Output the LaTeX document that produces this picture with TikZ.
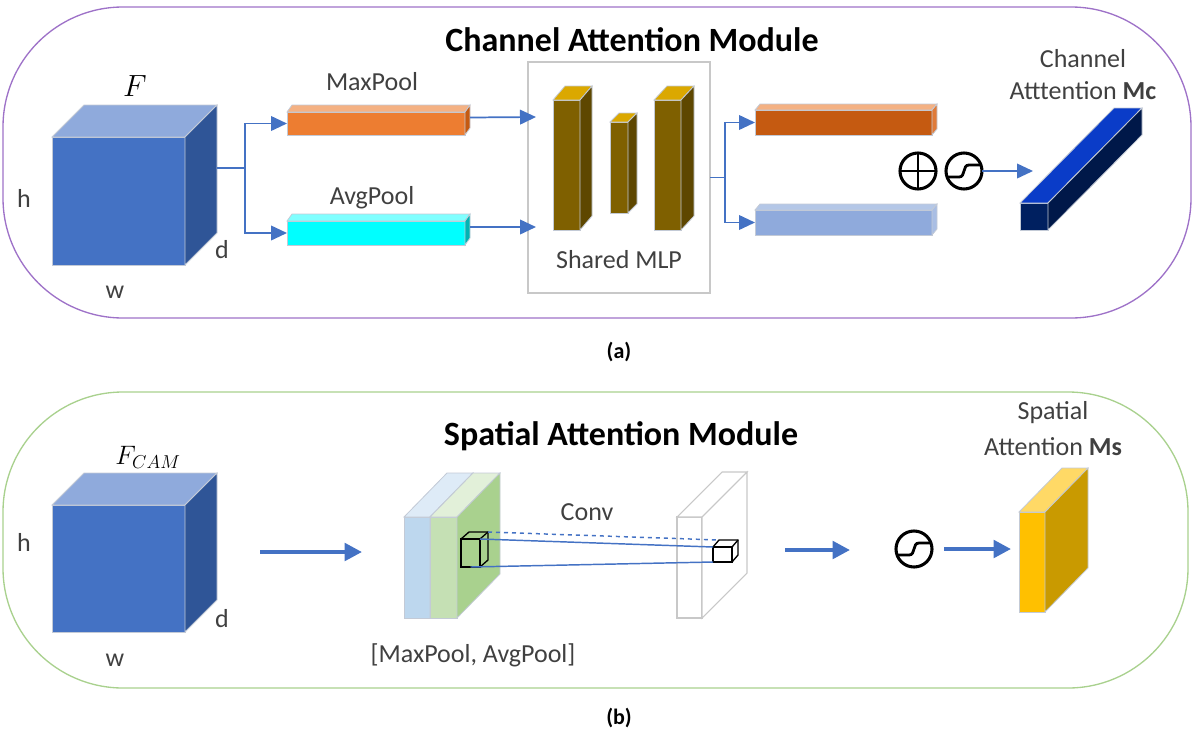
\RequirePackage{fix-cm}
\documentclass[tikz,border=0pt]{standalone}
\usepackage{fontspec}
\setmainfont{Carlito}
\usetikzlibrary{arrows.meta}
\definecolor{lineblue}{HTML}{4472C4}
\definecolor{cubefront}{HTML}{4472C4}
\definecolor{cubetop}{HTML}{8FAADC}
\definecolor{cubeside}{HTML}{2F5597}
\definecolor{edgegray}{HTML}{C3CAD6}
\definecolor{maxf}{HTML}{ED7D31}
\definecolor{maxt}{HTML}{F4B183}
\definecolor{maxs}{HTML}{C55A11}
\definecolor{avgf}{HTML}{00FFFF}
\definecolor{avgt}{HTML}{80FFFF}
\definecolor{avgs}{HTML}{00B3B3}
\definecolor{mlpf}{HTML}{7F6000}
\definecolor{mlpt}{HTML}{DBA800}
\definecolor{mlps}{HTML}{5E4700}
\definecolor{o1f}{HTML}{C55A11}
\definecolor{o1t}{HTML}{F4B183}
\definecolor{o1s}{HTML}{E07B39}
\definecolor{o2f}{HTML}{8FAADC}
\definecolor{o2t}{HTML}{B4C7E7}
\definecolor{o2s}{HTML}{A9BEE4}
\definecolor{mcf}{HTML}{002060}
\definecolor{mct}{HTML}{0A3CC8}
\definecolor{mcs}{HTML}{001849}
\definecolor{sbf}{HTML}{BDD7EE}
\definecolor{sbt}{HTML}{DEEBF7}
\definecolor{sgf}{HTML}{C5E0B4}
\definecolor{sgt}{HTML}{E2F0D9}
\definecolor{sgs}{HTML}{A9D18E}
\definecolor{msf}{HTML}{FFC000}
\definecolor{mst}{HTML}{FFD966}
\definecolor{mss}{HTML}{C99A00}
\definecolor{purpleb}{HTML}{9E72C8}
\definecolor{greenb}{HTML}{A9D18E}
\definecolor{labgray}{HTML}{404040}
\definecolor{boxgray}{HTML}{C8C8C8}

% #1 name, #2 front top-left "x,y", #3 width, #4 height, #5 depth offset "dx,dy", #6 front, #7 top, #8 side
\newcommand\cuboid[8]{%
  \node[cubface, fill=#6, minimum width=#3*0.75pt, minimum height=#4*0.75pt, anchor=north west] (#1) at (#2) {};
  \filldraw[cubedge, fill=#7] (#1.north west) -- ++(#5) -- ++(#3,0) -- (#1.north east) -- cycle;
  \filldraw[cubedge, fill=#8] (#1.north east) -- ++(#5) -- ++(0,#4) -- (#1.south east) -- cycle;
}
% wire cube: #1 name, #2 front top-left, #3 w, #4 h, #5 offset
\newcommand\wirecube[5]{%
  \node[wire, minimum width=#3*0.75pt, minimum height=#4*0.75pt, anchor=north west] (#1) at (#2) {};
  \draw[wireline] (#1.north west) -- ++(#5) -- ++(#3,0) -- ++(0,#4) -- (#1.south east);
  \draw[wireline] (#1.north east) -- ++(#5);
}
\newcommand\sigmoidsym[2]{%
  \node[opcircle] (#1) at (#2) {};
  \begin{scope}[shift={(#1.center)}]
    \draw[opline] (-17,6) -- (-5,6) .. controls (2,6) and (-2,-6) .. (5,-6) -- (17,-6);
  \end{scope}
}

\begin{document}
\begin{tikzpicture}[x=0.75pt,y=-0.75pt,
  cubedge/.style={draw=edgegray, line width=0.6pt},
  cubface/.style={cubedge, inner sep=0pt, outer sep=0pt},
  wire/.style={draw=black, line width=1pt, inner sep=0pt, outer sep=0pt},
  wireline/.style={draw=black, line width=1pt},
  opcircle/.style={circle, draw=black, line width=2.3pt, minimum size=27pt, inner sep=0pt, outer sep=0pt},
  opline/.style={draw=black, line width=2.1pt},
  conn/.style={draw=lineblue, line width=1.3pt},
  arr/.style={conn, -{Triangle[length=12pt,width=11pt]}},
  bigarr/.style={draw=lineblue, line width=3pt, -{Triangle[length=13pt,width=13pt]}},
  convline/.style={draw=lineblue, line width=1.1pt},
  lab/.style={text=labgray, inner sep=0pt, font=\fontsize{19.5}{22}\selectfont},
  mathlab/.style={text=black, inner sep=0pt},
  ttl/.style={text=black, inner sep=0pt, font=\fontsize{25.5}{30}\selectfont\bfseries},
  capt/.style={text=black, inner sep=0pt, font=\fontsize{16.5}{19}\selectfont\bfseries},
  modbox/.style={rounded corners=90pt, line width=1pt, inner sep=0pt, outer sep=0pt, anchor=north west}
]
\useasboundingbox (0,0) rectangle (1200,740);

% ---------------- module frames ----------------
\node[modbox, draw=purpleb, minimum width=1188*0.75pt, minimum height=311*0.75pt] (cambox) at (3,7) {};
\node[modbox, draw=greenb, minimum width=1185*0.75pt, minimum height=296*0.75pt] (sambox) at (3,392) {};

% ---------------- (a) Channel attention ----------------
\node[ttl] (t1) at (632,40) {Channel Attention Module};

\cuboid{cube1}{52,137}{133}{128}{32,-32}{cubefront}{cubetop}{cubeside}
\node[mathlab, font=\fontsize{23}{26}\selectfont] (lF) at (135,86) {$F$};
\node[lab] (lh1) at (24,198) {h};
\node[lab] (lw1) at (115,292) {w};
\node[lab] (ld1) at (222,250) {d};

\cuboid{maxbar}{287,112}{178}{23}{5,-7}{maxf}{maxt}{maxs}
\cuboid{avgbar}{287,221}{178}{24}{5,-7}{avgf}{avgt}{avgs}
\node[lab] (lmax) at (372,82) {MaxPool};
\node[lab] (lavg) at (372,198) {AvgPool};

\coordinate (c1out) at (217,168);
\coordinate (split1) at (245,168);
\draw[conn] (c1out) -- (split1);
\draw[arr] (split1) |- (maxbar.west);
\draw[arr] (split1) |- (avgbar.west);

\node[draw=boxgray, line width=0.8pt, inner sep=0pt, outer sep=0pt, minimum width=182*0.75pt, minimum height=231*0.75pt, anchor=north west] (mlpbox) at (528,62) {};
\cuboid{mlp1}{553,100}{27}{130}{12,-14}{mlpf}{mlpt}{mlps}
\cuboid{mlp2}{610,122}{18}{91}{9,-9}{mlpf}{mlpt}{mlps}
\cuboid{mlp3}{654,100}{27}{130}{13,-14}{mlpf}{mlpt}{mlps}
\node[lab] (lmlp) at (619,260) {Shared MLP};

\coordinate (mxo) at ([shift={(5,-6)}]maxbar.east);
\coordinate (avo) at ([shift={(5,-6)}]avgbar.east);
\coordinate (mlpin1) at (536,117);
\coordinate (mlpin2) at (536,227);
\draw[arr] (mxo) -- (mlpin1);
\draw[arr] (avo) -- (mlpin2);

\cuboid{out1}{755,110}{177}{25}{5,-6}{o1f}{o1t}{o1s}
\cuboid{out2}{755,210}{177}{25}{5,-6}{o2f}{o2t}{o2s}
\coordinate (split2) at ([shift={(15,0)}]mlpbox.east);
\draw[conn] (mlpbox.east) -- (split2);
\draw[arr] (split2) |- (out1.west);
\draw[arr] (split2) |- (out2.west);

\node[opcircle] (plus) at (918,171) {};
\draw[opline] (plus.north) -- (plus.south);
\draw[opline] (plus.west) -- (plus.east);
\sigmoidsym{sig1}{964,171}

\cuboid{mc}{1020,203}{28}{27}{94,-95}{mcf}{mct}{mcs}
\coordinate (mcin) at (1033,171);
\draw[arr] (sig1.east) -- (mcin);
\node[lab] (lch) at (1083,59) {Channel};
\node[lab] (lmc) at (1083,91) {Atttention \textbf{Mc}};

\node[capt] (la) at (619,352) {(a)};

% ---------------- (b) Spatial attention ----------------
\node[ttl] (t2) at (621,436) {Spatial Attention Module};

\cuboid{cube2}{52,505}{133}{127}{32,-32}{cubefront}{cubetop}{cubeside}
\node[mathlab, font=\fontsize{20}{24}\selectfont] (lF2) at (148,457) {$F_{CAM}$};
\node[lab] (lh2) at (24,542) {h};
\node[lab] (lw2) at (115,660) {w};
\node[lab] (ld2) at (222,619) {d};

\coordinate (a1s) at (260,552);
\coordinate (a1e) at (362,552);
\draw[bigarr] (a1s) -- (a1e);

\cuboid{slabB}{404,517}{26}{101}{43,-44}{sbf}{sbt}{sbf}
\cuboid{slabG}{430,517}{27}{101}{43,-44}{sgf}{sgt}{sgs}
\begin{scope}[cubedge/.style={draw=boxgray, line width=0.8pt}]
\cuboid{outslab}{677,517}{25}{101}{45,-45}{white}{white}{white}
\end{scope}

\wirecube{kern}{461,539}{19}{28}{8,-7}
\wirecube{kout}{713,547}{19}{15}{6,-7}
\draw[convline] (kern.north east) -- (kout.north west);
\draw[convline] (kern.south) -- (kout.south west);
\draw[convline, dashed] ([shift={(8,-7)}]kern.north east) -- ([shift={(6,-7)}]kout.north west);

\node[lab] (lconv) at (587,512) {Conv};
\node[lab] (lpool) at (473,655) {[MaxPool, AvgPool]};

\coordinate (a2s) at (785,550);
\coordinate (a2e) at (850,550);
\draw[bigarr] (a2s) -- (a2e);

\sigmoidsym{sig2}{914,549}
\cuboid{ms}{1019,512}{26}{100}{43,-44}{msf}{mst}{mss}
\coordinate (a3s) at (944,549);
\coordinate (a3e) at (1011,549);
\draw[bigarr] (a3s) -- (a3e);
\node[lab] (lsp) at (1053,413) {Spatial};
\node[lab] (lms) at (1053,447) {Attention \textbf{Ms}};

\node[capt] (lb) at (619,718) {(b)};
\end{tikzpicture}
\end{document}
